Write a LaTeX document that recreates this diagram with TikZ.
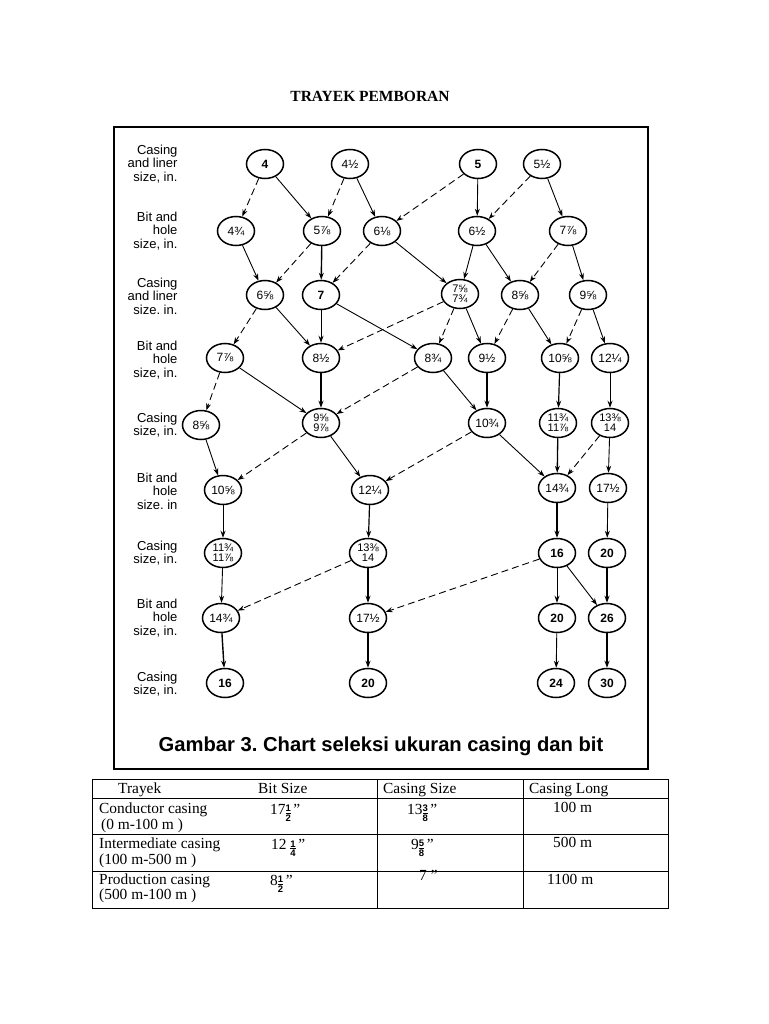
\documentclass[tikz,border=0pt]{standalone}
\usepackage{fontspec}
\setmainfont{Liberation Serif}
\setsansfont{Liberation Sans}
\usetikzlibrary{shapes.geometric,arrows.meta}
\newcommand{\fracdig}{\fontsize{9.5}{9.5}\sffamily\bfseries}
\newcommand{\myfrac}[2]{\raisebox{-7pt}{\vbox{\offinterlineskip\halign{\hfil##\hfil\cr
  \fracdig #1\cr\noalign{\kern0.8pt\hrule height 0.8pt\kern0.8pt}\fracdig #2\cr}}}}
\frenchspacing
\begin{document}
\begin{tikzpicture}[x=1pt,y=-1pt,
  sz/.style={draw,ellipse,line width=1.5pt,minimum width=37pt,minimum height=29pt,inner sep=0pt,
     font=\sffamily\fontsize{12}{12}\selectfont,align=center},
  szb/.style={sz,font=\sffamily\bfseries\fontsize{12}{12}\selectfont},
  sz2/.style={sz,font=\sffamily\fontsize{11}{10}\selectfont},
  lbl/.style={anchor=east,align=right,font=\sffamily\fontsize{13}{13.5}\selectfont},
  sol/.style={-{Stealth[length=7pt,width=5pt]},line width=0.9pt},
  dsh/.style={sol,dash pattern=on 7pt off 4pt},
  tx/.style={anchor=base west,font=\fontsize{15.4}{18}\selectfont,inner sep=0pt}]
\useasboundingbox (0,0) rectangle (768,1024);
\fill[white] (0,0) rectangle (768,1024);

\node[font=\bfseries\fontsize{15.5}{17}\selectfont] (title) at (370,96) {TRAYEK PEMBORAN};
\draw[line width=1.2pt] (114,127) rectangle (648,769);

% row labels
\node[lbl] (l1) at (181,164) {Casing\\and liner\\size, in.};
\node[lbl] (l2) at (181,231) {Bit and\\hole\\size, in.};
\node[lbl] (l3) at (181,296) {Casing\\and liner\\size. in.};
\node[lbl] (l4) at (181,360) {Bit and\\hole\\size, in.};
\node[lbl] (l5) at (181,425) {Casing\\size, in.};
\node[lbl] (l6) at (181,491) {Bit and\\hole\\size. in};
\node[lbl] (l7) at (181,553) {Casing\\size, in.};
\node[lbl] (l8) at (181,618) {Bit and\\hole\\size, in.};
\node[lbl] (l9) at (181,684) {Casing\\size, in.};

% nodes
\node[szb] (r1a) at (265,164) {4};
\node[sz] (r1b) at (350,164) {4½};
\node[szb] (r1c) at (478,164) {5};
\node[sz] (r1d) at (542,164) {5½};

\node[sz] (r2a) at (236,231) {4¾};
\node[sz] (r2b) at (322,231) {5⅞};
\node[sz] (r2c) at (382,231) {6⅛};
\node[sz] (r2d) at (477,231) {6½};
\node[sz] (r2e) at (568,231) {7⅞};

\node[sz] (r3a) at (265,295) {6⅝};
\node[szb] (r3b) at (321,295) {7};
\node[sz2] (r3c) at (460,294) {7⅝\\7¾};
\node[sz] (r3d) at (520,295) {8⅝};
\node[sz] (r3e) at (588,295) {9⅝};

\node[sz] (r4a) at (225,358) {7⅞};
\node[sz] (r4b) at (321,358) {8½};
\node[sz] (r4c) at (433,358) {8¾};
\node[sz] (r4d) at (487,358) {9½};
\node[sz] (r4e) at (560,358) {10⅝};
\node[sz] (r4f) at (610,358) {12¼};

\node[sz] (r5a) at (201,425) {8⅝};
\node[sz2] (r5b) at (321,423) {9⅝\\9⅞};
\node[sz] (r5c) at (487,423) {10¾};
\node[sz2] (r5d) at (558,423) {11¾\\11⅞};
\node[sz2] (r5e) at (610,423) {13⅜\\14};

\node[sz] (r6a) at (223,490) {10⅝};
\node[sz] (r6b) at (370,490) {12¼};
\node[sz] (r6c) at (557,488) {14¾};
\node[sz] (r6d) at (608,488) {17½};

\node[sz2] (r7a) at (223,553) {11¾\\11⅞};
\node[sz2] (r7b) at (368,553) {13⅜\\14};
\node[szb] (r7c) at (557,553) {16};
\node[szb] (r7d) at (607,553) {20};

\node[sz] (r8a) at (221,618) {14¾};
\node[sz] (r8b) at (368,618) {17½};
\node[szb] (r8c) at (557,618) {20};
\node[szb] (r8d) at (607,618) {26};

\node[szb] (r9a) at (225,683) {16};
\node[szb] (r9b) at (368,683) {20};
\node[szb] (r9c) at (556,683) {24};
\node[szb] (r9d) at (607,683) {30};

% edges row1-row2
\draw[dsh] (r1a) -- (r2a);
\draw[sol] (r1a) -- (r2b);
\draw[dsh] (r1b) -- (r2b);
\draw[sol] (r1b) -- (r2c);
\draw[dsh] (r1c) -- (r2c);
\draw[sol] (r1c) -- (r2d);
\draw[dsh] (r1d) -- (r2d);
\draw[sol] (r1d) -- (r2e);
% row2-row3
\draw[sol] (r2a) -- (r3a);
\draw[dsh] (r2b) -- (r3a);
\draw[sol,line width=1.4pt] (r2b) -- (r3b);
\draw[dsh] (r2c) -- (r3b);
\draw[sol] (r2c) -- (r3c);
\draw[sol] (r2d) -- (r3c);
\draw[sol] (r2d) -- (r3d);
\draw[dsh] (r2e) -- (r3d);
\draw[sol] (r2e) -- (r3e);
% row3-row4
\draw[dsh] (r3a) -- (r4a);
\draw[sol] (r3a) -- (r4b);
\draw[sol] (r3b) -- (r4b);
\draw[sol] (r3b) -- (r4c);
\draw[dsh] (r3c) -- (r4b);
\draw[dsh] (r3c) -- (r4c);
\draw[sol] (r3c) -- (r4d);
\draw[dsh] (r3d) -- (r4d);
\draw[sol] (r3d) -- (r4e);
\draw[dsh] (r3e) -- (r4e);
\draw[sol] (r3e) -- (r4f);
% row4-row5
\draw[dsh] (r4a) -- (r5a);
\draw[sol] (r4a) -- (r5b);
\draw[sol,line width=1.2pt] (r4b) -- (r5b);
\draw[dsh] (r4c) -- (r5b);
\draw[sol] (r4c) -- (r5c);
\draw[sol,line width=1.2pt] (r4d) -- (r5c);
\draw[sol,line width=1.2pt] (r4e) -- (r5d);
\draw[sol] (r4f) -- (r5e);
% row5-row6
\draw[sol] (r5a) -- (r6a);
\draw[dsh] (r5b) -- (r6a);
\draw[sol] (r5b) -- (r6b);
\draw[dsh] (r5c) -- (r6b);
\draw[sol] (r5c) -- (r6c);
\draw[sol,line width=1.3pt] (r5d) -- (r6c);
\draw[dsh] (r5e) -- (r6c);
\draw[sol] (r5e) -- (r6d);
% row6-row7
\draw[sol] (r6a) -- (r7a);
\draw[sol,line width=1.2pt] (r6b) -- (r7b);
\draw[sol,line width=1.4pt] (r6c) -- (r7c);
\draw[sol] (r6d) -- (r7d);
% row7-row8
\draw[sol] (r7a) -- (r8a);
\draw[dsh] (r7b) -- (r8a);
\draw[sol,line width=1.2pt] (r7b) -- (r8b);
\draw[dsh] (r7c) -- (r8b);
\draw[sol] (r7c) -- (r8c);
\draw[sol] (r7c) -- (r8d);
\draw[sol,line width=1.2pt] (r7d) -- (r8d);
% row8-row9
\draw[sol,line width=1.4pt] (r8a) -- (r9a);
\draw[sol,line width=1.2pt] (r8b) -- (r9b);
\draw[sol] (r8c) -- (r9c);
\draw[sol,line width=1.4pt] (r8d) -- (r9d);

\node[font=\sffamily\bfseries\fontsize{20.2}{22}\selectfont] (cap) at (381,746) {Gambar 3. Chart seleksi ukuran casing dan bit};

% table
\draw[line width=0.8pt] (92,779) rectangle (668,908);
\draw[line width=0.8pt] (92,798) -- (668,798) (92,834) -- (668,834) (92,871) -- (668,871);
\draw[line width=0.8pt] (377,779) -- (377,908) (523,779) -- (523,908);

\node[tx] (h1) at (118,793) {Trayek};
\node[tx] (h2) at (258,793) {Bit Size};
\node[tx] (h3) at (383,793) {Casing Size};
\node[tx] (h4) at (529,793) {Casing Long};

\node[tx] (a1) at (99,813) {Conductor casing};
\node[tx] (a2) at (101,829) {(0 m-100 m )};
\node[tx] (b1) at (270,814) {17\myfrac{1}{2}\,”};
\node[tx] (c1) at (407,814) {13\myfrac{3}{8}\,”};
\node[tx] (d1) at (553,812) {100 m};

\node[tx] (a3) at (99,848) {Intermediate casing};
\node[tx] (a4) at (99,864) {(100 m-500 m )};
\node[tx] (b2) at (271,849) {12 \myfrac{1}{4}\,”};
\node[tx] (c2) at (411,849) {9\myfrac{5}{8}\,”};
\node[tx] (d2) at (553,847) {500 m};

\node[tx] (a5) at (99,884) {Production casing};
\node[tx] (a6) at (99,899) {(500 m-100 m )};
\node[tx] (b3) at (270,885) {8\myfrac{1}{2}\,”};
\node[tx] (c3) at (419,880) {7 ”};
\node[tx] (d3) at (547,884) {1100 m};
\end{tikzpicture}
\end{document}
